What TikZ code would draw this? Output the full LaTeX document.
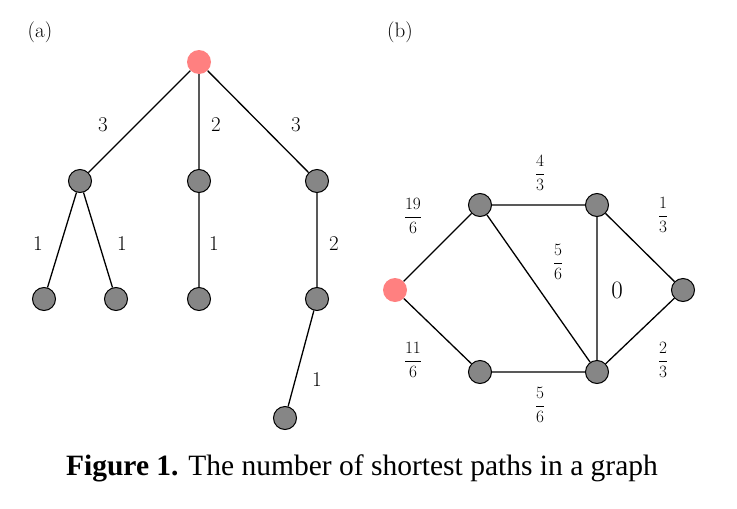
\documentclass[tikz,border=0pt]{standalone}
\usepackage{fontspec}
\newfontfamily\capfont{Liberation Serif}
\begin{document}
\begin{tikzpicture}[x=1pt,y=-1pt,
  vtx/.style={circle,draw=black,line width=1pt,fill=gray!95!white,minimum size=23pt,inner sep=0pt},
  src/.style={circle,fill=red!50!white,minimum size=24pt,inner sep=0pt},
  edge/.style={line width=1.3pt},
  lab/.style={font=\fontsize{21}{24}\selectfont},
  fr/.style={font=\fontsize{18}{20}\selectfont}]
\useasboundingbox (0,0) rectangle (737,509);
\node[lab] at (40,32) {(a)};
\node[lab] at (400,32) {(b)};
% (a)
\node[src] (r) at (199,62) {};
\node[vtx] (a1) at (80,181) {};
\node[vtx] (a2) at (199,181) {};
\node[vtx] (a3) at (317,181) {};
\node[vtx] (b1) at (44,299) {};
\node[vtx] (b2) at (116,299) {};
\node[vtx] (b3) at (199,299) {};
\node[vtx] (b4) at (317,299) {};
\node[vtx] (c1) at (285,418) {};
\draw[edge] (r)--(a1) (r)--(a2) (r)--(a3) (a1)--(b1) (a1)--(b2) (a2)--(b3) (a3)--(b4) (b4)--(c1);
\node[lab] at (103,125) {3};
\node[lab] at (216,125) {2};
\node[lab] at (296,125) {3};
\node[lab] at (38,244) {1};
\node[lab] at (122,244) {1};
\node[lab] at (214,244) {1};
\node[lab] at (334,244) {2};
\node[lab] at (317,380) {1};
% (b)
\node[src] (s) at (395,290) {};
\node[vtx] (p) at (480,205) {};
\node[vtx] (q) at (597,205) {};
\node[vtx] (t) at (683,290) {};
\node[vtx] (u) at (480,372) {};
\node[vtx] (v) at (597,372) {};
\draw[edge] (s)--(p) (p)--(q) (q)--(t) (s)--(u) (u)--(v) (v)--(t) (p)--(v) (q)--(v);
\node[fr] at (540,173) {$\displaystyle\frac{4}{3}$};
\node[fr] at (413,216) {$\displaystyle\frac{19}{6}$};
\node[fr] at (663,215) {$\displaystyle\frac{1}{3}$};
\node[fr] at (558,262) {$\displaystyle\frac{5}{6}$};
\node[font=\fontsize{25}{28}\selectfont] at (617,290) {0};
\node[fr] at (413,360) {$\displaystyle\frac{11}{6}$};
\node[fr] at (663,360) {$\displaystyle\frac{2}{3}$};
\node[fr] at (540,405) {$\displaystyle\frac{5}{6}$};
\node[font=\capfont\fontsize{29.5}{32}\selectfont] at (362,468) {\textbf{Figure 1.} The number of shortest paths in a graph};
\end{tikzpicture}
\end{document}
